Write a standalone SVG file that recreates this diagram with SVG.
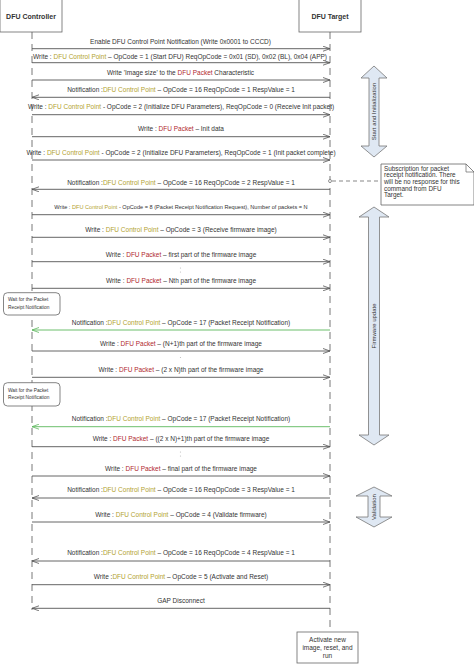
<svg xmlns="http://www.w3.org/2000/svg" width="474" height="664" viewBox="0 0 474 664">
<defs>
<marker id="ah" markerWidth="8" markerHeight="6" refX="7" refY="3" orient="auto" markerUnits="userSpaceOnUse">
<path d="M0,0.5 L7,3 L0,5.5" fill="none" stroke="#555" stroke-width="0.8"/>
</marker>
<marker id="ahg" markerWidth="8" markerHeight="6" refX="7" refY="3" orient="auto" markerUnits="userSpaceOnUse">
<path d="M0,0.5 L7,3 L0,5.5" fill="none" stroke="#5cb85c" stroke-width="0.8"/>
</marker>
<style>
text{font-family:"Liberation Sans",Arial,sans-serif;fill:#333;}
.m{font-size:6.5px;text-anchor:middle;}
.s{font-size:5.6px;text-anchor:middle;}
.cp{fill:#b3a330;}
.pk{fill:#b0282e;}
.msg{stroke:#555;stroke-width:0.9;fill:none;marker-end:url(#ah);}
.grn{stroke:#5cb85c;stroke-width:0.9;fill:none;marker-end:url(#ahg);}
.life{stroke:#555;stroke-width:0.8;stroke-dasharray:7,5;}
.box{fill:#fff;stroke:#666;stroke-width:0.8;}
.blk{fill:#dfe8f3;stroke:#777;stroke-width:0.8;}
.hd{font-size:7px;font-weight:bold;text-anchor:middle;}
.w{font-size:4.8px;}
.dot{fill:#bbb;}
</style>
</defs>
<rect width="474" height="664" fill="#fff"/>

<g id="controller">
<rect class="box" x="0" y="-1" width="62" height="33"/>
<text class="hd" x="31" y="18.5">DFU Controller</text>
</g>
<g id="target">
<rect class="box" x="299" y="-1" width="62" height="33"/>
<text class="hd" x="330" y="18.5">DFU Target</text>
</g>

<g id="lifelines">
<line class="life" x1="32" y1="32" x2="32" y2="610"/>
<line class="life" x1="330" y1="32" x2="330" y2="632"/>
</g>

<g id="connectors">
<line class="msg" x1="32" y1="48.7" x2="330" y2="48.7"/>
<line class="msg" x1="32" y1="62.7" x2="330" y2="62.7"/>
<line class="msg" x1="32" y1="80" x2="330" y2="80"/>
<line class="msg" x1="330" y1="97.3" x2="32" y2="97.3"/>
<line class="msg" x1="32" y1="114.7" x2="330" y2="114.7"/>
<line class="msg" x1="32" y1="136.7" x2="330" y2="136.7"/>
<line class="msg" x1="32" y1="160" x2="330" y2="160"/>
<line class="msg" x1="330" y1="189.3" x2="32" y2="189.3"/>
<line class="msg" x1="32" y1="214.7" x2="330" y2="214.7"/>
<line class="msg" x1="32" y1="237.3" x2="330" y2="237.3"/>
<line class="msg" x1="32" y1="261.7" x2="330" y2="261.7"/>
<line class="msg" x1="32" y1="288.3" x2="330" y2="288.3"/>
<line class="grn" x1="330" y1="330" x2="32" y2="330"/>
<line class="msg" x1="32" y1="351" x2="330" y2="351"/>
<line class="msg" x1="32" y1="377.3" x2="330" y2="377.3"/>
<line class="grn" x1="330" y1="426.7" x2="32" y2="426.7"/>
<line class="msg" x1="32" y1="446.7" x2="330" y2="446.7"/>
<line class="msg" x1="32" y1="476" x2="330" y2="476"/>
<line class="msg" x1="330" y1="498" x2="32" y2="498"/>
<line class="msg" x1="32" y1="522" x2="330" y2="522"/>
<line class="msg" x1="330" y1="561" x2="32" y2="561"/>
<line class="msg" x1="32" y1="584.7" x2="330" y2="584.7"/>
<line class="msg" x1="330" y1="608.3" x2="32" y2="608.3"/>
<line x1="332" y1="181" x2="381" y2="181" stroke="#555" stroke-width="0.7" stroke-dasharray="4,3"/>
<circle cx="330" cy="181" r="1.5" fill="#fff" stroke="#555" stroke-width="0.6"/>
</g>

<g id="labels">
<text class="m" x="180.5" y="43.5">Enable DFU Control Point Notification (Write 0x0001 to CCCD)</text>
<text class="m" x="180" y="58.5">Write : <tspan class="cp">DFU Control Point</tspan> – OpCode = 1 (Start DFU) ReqOpCode = 0x01 (SD), 0x02 (BL), 0x04 (APP)</text>
<text class="m" x="180.5" y="74.5">Write 'Image size' to the <tspan class="pk">DFU Packet</tspan> Characteristic</text>
<text class="m" x="181" y="92">Notification :<tspan class="cp">DFU Control Point</tspan> – OpCode = 16 ReqOpCode = 1 RespValue = 1</text>
<text class="m" x="181" y="108.5">Write : <tspan class="cp">DFU Control Point</tspan> - OpCode = 2 (Initialize DFU Parameters), ReqOpCode = 0 (Receive Init packet)</text>
<text class="m" x="181" y="130.5">Write : <tspan class="pk">DFU Packet</tspan> – Init data</text>
<text class="m" x="181" y="155">Write : <tspan class="cp">DFU Control Point</tspan> - OpCode = 2 (Initialize DFU Parameters), ReqOpCode = 1 (Init packet complete)</text>
<text class="m" x="181" y="185">Notification :<tspan class="cp">DFU Control Point</tspan> – OpCode = 16 ReqOpCode = 2 RespValue = 1</text>
<text class="s" x="181" y="209">Write : <tspan class="cp">DFU Control Point</tspan> - OpCode = 8 (Packet Receipt Notification Request), Number of packets = N</text>
<text class="m" x="181" y="231.5">Write : <tspan class="cp">DFU Control Point</tspan> – OpCode = 3 (Receive firmware image)</text>
<text class="m" x="181" y="256.5">Write : <tspan class="pk">DFU Packet</tspan> – first part of the firmware image</text>
<text class="m" x="181" y="282.5">Write : <tspan class="pk">DFU Packet</tspan> – Nth part of the firmware image</text>
<text class="m" x="181" y="324.5">Notification :<tspan class="cp">DFU Control Point</tspan> – OpCode = 17 (Packet Receipt Notification)</text>
<text class="m" x="181" y="345.8">Write : <tspan class="pk">DFU Packet</tspan> – (N+1)th part of the firmware image</text>
<text class="m" x="181" y="371.8">Write : <tspan class="pk">DFU Packet</tspan> – (2 x N)th part of the firmware image</text>
<text class="m" x="181" y="421">Notification :<tspan class="cp">DFU Control Point</tspan> – OpCode = 17 (Packet Receipt Notification)</text>
<text class="m" x="181" y="440.8">Write : <tspan class="pk">DFU Packet</tspan> – ((2 x N)+1)th part of the firmware image</text>
<text class="m" x="181" y="470.5">Write : <tspan class="pk">DFU Packet</tspan> – final part of the firmware image</text>
<text class="m" x="181" y="491.8">Notification :<tspan class="cp">DFU Control Point</tspan> – OpCode = 16 ReqOpCode = 3 RespValue = 1</text>
<text class="m" x="181" y="516.5">Write : <tspan class="cp">DFU Control Point</tspan>  – OpCode = 4 (Validate firmware)</text>
<text class="m" x="181" y="554.8">Notification :<tspan class="cp">DFU Control Point</tspan> – OpCode = 16 ReqOpCode = 4 RespValue = 1</text>
<text class="m" x="181" y="579.2">Write :<tspan class="cp">DFU Control Point</tspan> – OpCode = 5 (Activate and Reset)</text>
<text class="m" x="181" y="603.2">GAP Disconnect</text>
</g>

<g id="dots">
<circle class="dot" cx="180.5" cy="268" r="0.6"/>
<circle class="dot" cx="180.5" cy="272" r="0.6"/>
<circle class="dot" cx="180.5" cy="357.5" r="0.6"/>
<circle class="dot" cx="180.5" cy="452" r="0.6"/>
<circle class="dot" cx="180.5" cy="456" r="0.6"/>
</g>

<g id="wait1">
<rect class="box" x="3.5" y="292.7" width="56.5" height="22.3" rx="4"/>
<text class="w" x="8" y="301">Wait for the Packet</text>
<text class="w" x="8" y="308.5">Receipt Notification</text>
</g>
<g id="wait2">
<rect class="box" x="3.5" y="382.7" width="56.5" height="23.3" rx="4"/>
<text class="w" x="8" y="391.5">Wait for the Packet</text>
<text class="w" x="8" y="399">Receipt Notification</text>
</g>

<g id="note">
<path class="box" d="M381,164 L466,164 L474,172 L474,205 L381,205 Z"/>
<path d="M466,164 L466,172 L474,172" fill="none" stroke="#666" stroke-width="0.7"/>
<text style="font-size:6.4px" x="384" y="170.5">Subscription for packet</text>
<text style="font-size:6.4px" x="384" y="177.2">receipt notification. There</text>
<text style="font-size:6.4px" x="384" y="183.9">will be no response for this</text>
<text style="font-size:6.4px" x="384" y="190.6">command from DFU</text>
<text style="font-size:6.4px" x="384" y="197.3">Target.</text>
</g>

<g id="activate">
<rect class="box" x="297" y="632" width="61" height="31"/>
<text class="m" x="327.5" y="641.5">Activate new</text>
<text class="m" x="327.5" y="649.5">image, reset, and</text>
<text class="m" x="327.5" y="658">run</text>
</g>

<g id="phase-start">
<path class="blk" d="M374,66 L387,78 L379,78 L379,146 L387,146 L374,157 L361,146 L369,146 L369,78 L361,78 Z"/>
<text class="m" style="font-size:6px" transform="translate(376.2,111.5) rotate(-90)">Start and Initialization</text>
</g>
<g id="phase-fw">
<path class="blk" d="M374,207 L389,217 L379.5,217 L379.5,435 L389,435 L374,445 L359,435 L368.5,435 L368.5,217 L359,217 Z"/>
<text class="m" style="font-size:6px" transform="translate(376.2,326) rotate(-90)">Firmware update</text>
</g>
<g id="phase-val">
<path class="blk" d="M374,487 L392,496 L380,496 L380,517 L392,517 L374,527 L356,517 L368,517 L368,496 L356,496 Z"/>
<text class="m" style="font-size:6px" transform="translate(376.2,507) rotate(-90)">Validation</text>
</g>
</svg>
